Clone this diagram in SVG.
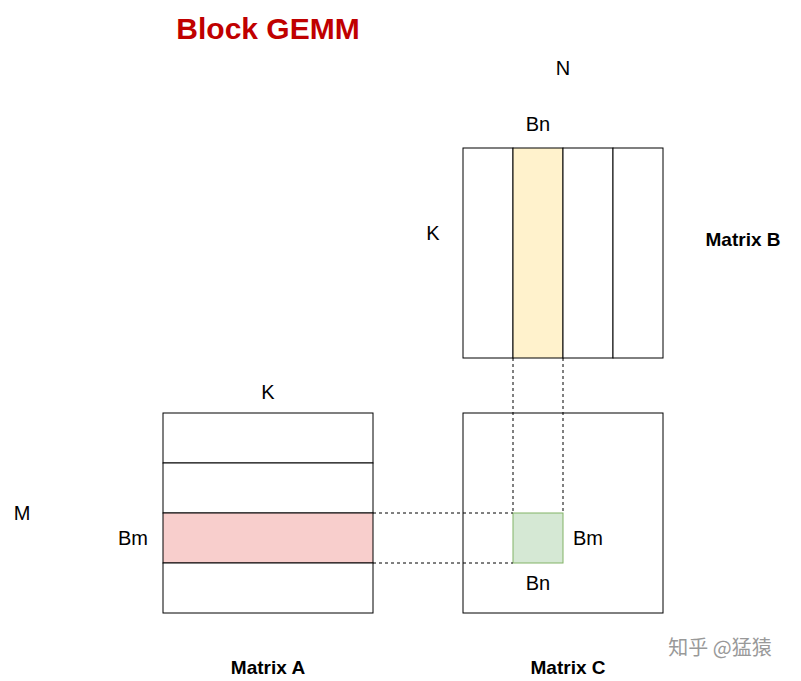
<svg xmlns="http://www.w3.org/2000/svg" width="801" height="681" viewBox="0 0 801 681">
<style>
.b{fill:#fff;stroke:#000;stroke-width:1}
.t{font-family:"Liberation Sans",Arial,sans-serif;font-size:20px;text-anchor:middle;fill:#000}
.l{font-family:"Liberation Sans",Arial,sans-serif;font-size:19px;font-weight:bold;text-anchor:middle;fill:#000}
.d{stroke:#000;stroke-width:1;stroke-dasharray:3 3;fill:none}
</style>
<rect width="801" height="681" fill="#fff"/>
<text x="268" y="39" font-family="Liberation Sans,Arial,sans-serif" font-size="30" font-weight="bold" fill="#c00000" text-anchor="middle">Block GEMM</text>
<g id="matrixB">
<rect class="b" x="463" y="148" width="50" height="210"/>
<rect x="513" y="148" width="50" height="210" fill="#fff2cc" stroke="#000"/>
<rect class="b" x="563" y="148" width="50" height="210"/>
<rect class="b" x="613" y="148" width="50" height="210"/>
</g>
<g id="matrixA">
<rect class="b" x="163" y="413" width="210" height="50"/>
<rect class="b" x="163" y="463" width="210" height="50"/>
<rect x="163" y="513" width="210" height="50" fill="#f8cecc" stroke="#000"/>
<rect class="b" x="163" y="563" width="210" height="50"/>
</g>
<g id="matrixC">
<rect class="b" x="463" y="413" width="200" height="200"/>
<rect x="513" y="513" width="50" height="50" fill="#d5e8d4" stroke="#82b366"/>
</g>
<g id="connectors">
<path class="d" d="M513 358V513M563 358V513M373 513H513M373 563H513"/>
</g>
<g id="labels">
<text class="t" x="563" y="75">N</text>
<text class="t" x="538" y="131">Bn</text>
<text class="t" x="433" y="240">K</text>
<text class="l" x="743" y="246">Matrix B</text>
<text class="t" x="268" y="399">K</text>
<text class="t" x="22" y="520">M</text>
<text class="t" x="133" y="545">Bm</text>
<text class="t" x="588" y="545">Bm</text>
<text class="t" x="538" y="590">Bn</text>
<text class="l" x="268" y="674">Matrix A</text>
<text class="l" x="568" y="674">Matrix C</text>
</g>
<text x="720" y="655" font-family="Noto Sans CJK SC,sans-serif" font-size="20" fill="#999" text-anchor="middle">知乎 @猛猿</text>
</svg>
